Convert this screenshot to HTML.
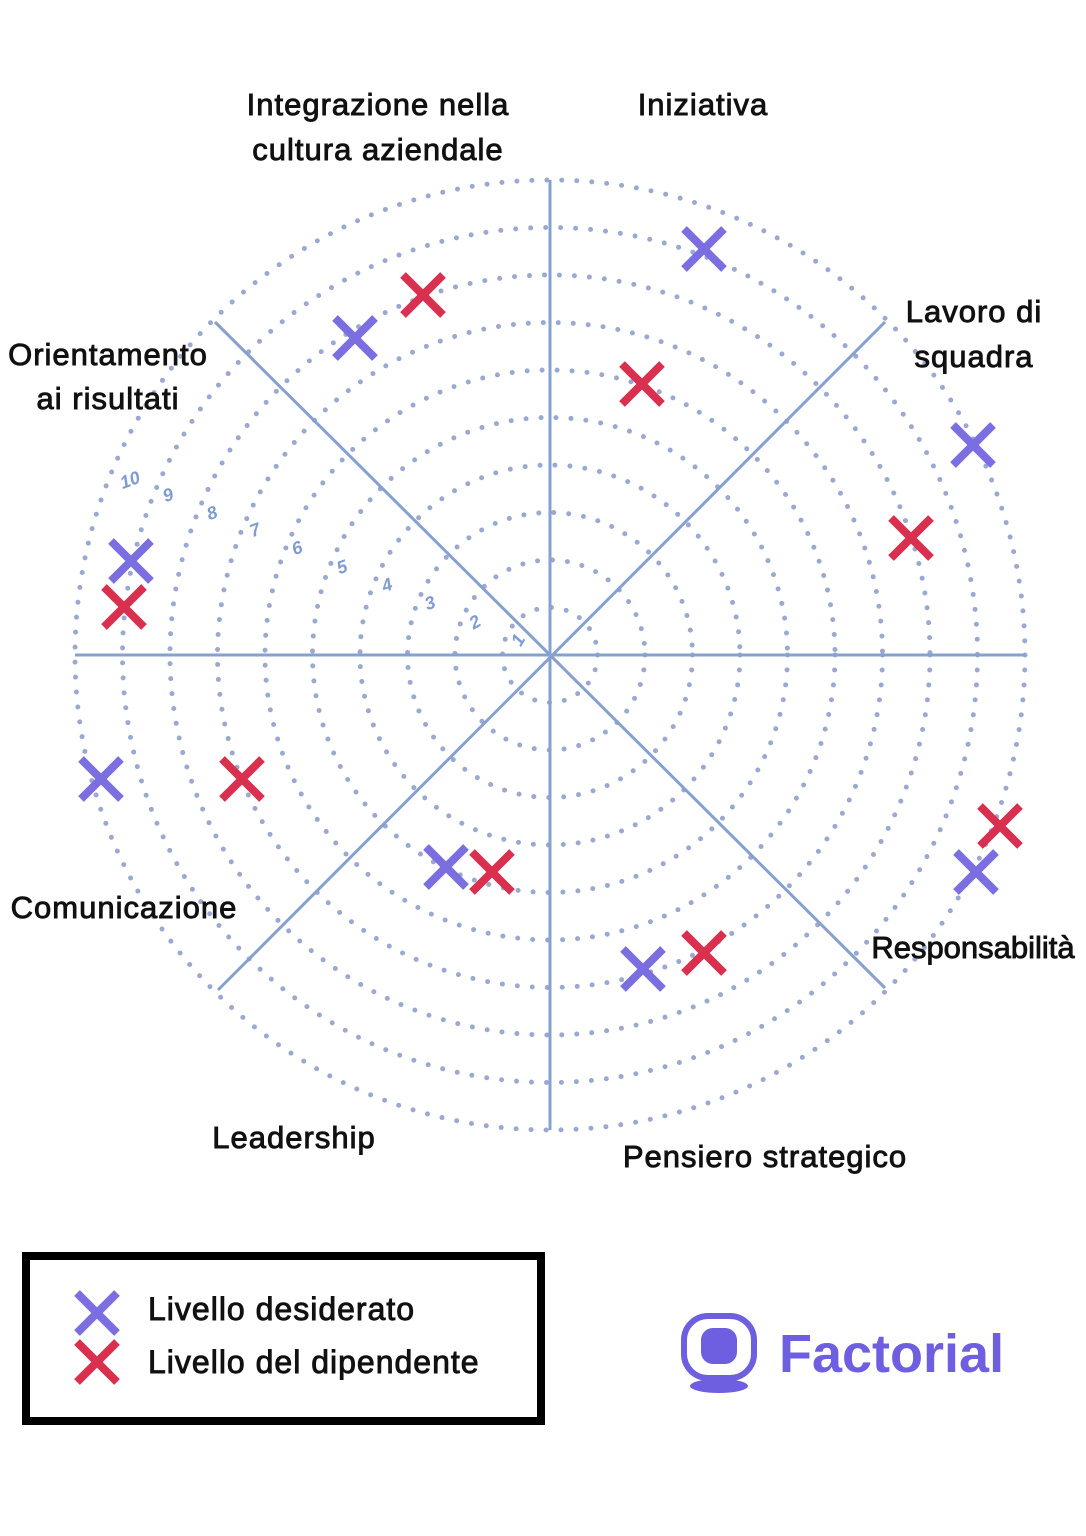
<!DOCTYPE html>
<html><head><meta charset="utf-8"><style>
html,body{margin:0;padding:0;background:#fff;}
svg{display:block}
text{font-family:"Liberation Sans","DejaVu Sans",sans-serif;}
</style></head><body>
<svg width="1086" height="1536" viewBox="0 0 1086 1536" xmlns="http://www.w3.org/2000/svg">
<rect width="1086" height="1536" fill="#fff"/>
<g fill="none" stroke="#9aa8d2" stroke-width="5" stroke-linecap="round" stroke-dasharray="0 15">
<circle cx="550" cy="655" r="47.5"/><circle cx="550" cy="655" r="95"/><circle cx="550" cy="655" r="142.5"/>
<circle cx="550" cy="655" r="190"/><circle cx="550" cy="655" r="237.5"/><circle cx="550" cy="655" r="285"/>
<circle cx="550" cy="655" r="332.5"/><circle cx="550" cy="655" r="380"/><circle cx="550" cy="655" r="427.5"/>
<circle cx="550" cy="655" r="475"/>
</g>
<g stroke="#86a0d0" stroke-width="3">
<line x1="75" y1="655" x2="1025" y2="655"/><line x1="550" y1="180" x2="550" y2="1130"/>
<line x1="215" y1="322" x2="885" y2="988"/><line x1="885" y1="322" x2="218" y2="990"/>
</g>
<g fill="#7f9bd0" font-size="18" font-style="italic" font-weight="bold" text-anchor="middle">
<text x="518" y="646" transform="rotate(-60 518 640)">1</text>
<text x="475" y="628" transform="rotate(-30 475 622)">2</text>
<text x="430" y="609" transform="rotate(-20 430 603)">3</text>
<text x="387" y="591" transform="rotate(-20 387 585)">4</text>
<text x="342" y="573" transform="rotate(-20 342 567)">5</text>
<text x="297" y="554" transform="rotate(-20 297 548)">6</text>
<text x="255" y="536" transform="rotate(-20 255 530)">7</text>
<text x="212" y="519" transform="rotate(-20 212 513)">8</text>
<text x="168" y="501" transform="rotate(-20 168 495)">9</text>
<text x="130" y="486" transform="rotate(-20 130 480)">10</text>
</g>
<g font-size="31" fill="#111" stroke="#111" stroke-width="0.9" letter-spacing="1" text-anchor="middle">
<text x="378" y="115">Integrazione nella</text>
<text x="378" y="160">cultura aziendale</text>
<text x="703" y="115">Iniziativa</text>
<text x="974" y="322">Lavoro di</text>
<text x="974" y="367">squadra</text>
<text x="108" y="365">Orientamento</text>
<text x="108" y="409">ai risultati</text>
<text x="124" y="918">Comunicazione</text>
<text x="973" y="958" letter-spacing="0">Responsabilità</text>
<text x="294" y="1148">Leadership</text>
<text x="765" y="1167">Pensiero strategico</text>
</g>
<defs>
<g id="x"><line x1="-20" y1="-20" x2="20" y2="20"/><line x1="-20" y1="20" x2="20" y2="-20"/></g>
</defs>
<g stroke="#7b6ee0" stroke-width="8">
<use href="#x" x="704" y="249"/><use href="#x" x="355" y="338"/><use href="#x" x="973" y="445"/>
<use href="#x" x="131" y="561"/><use href="#x" x="101" y="779"/><use href="#x" x="446" y="867"/>
<use href="#x" x="976" y="872"/><use href="#x" x="643" y="969"/><use href="#x" x="97" y="1313"/>
</g>
<g stroke="#d9304f" stroke-width="8">
<use href="#x" x="423" y="295"/><use href="#x" x="642" y="384"/><use href="#x" x="911" y="538"/>
<use href="#x" x="124" y="607"/><use href="#x" x="242" y="779"/><use href="#x" x="492" y="872"/>
<use href="#x" x="1000" y="826"/><use href="#x" x="704" y="953"/><use href="#x" x="97" y="1362"/>
</g>
<rect x="26" y="1256" width="515" height="165" fill="none" stroke="#000" stroke-width="8"/>
<g font-size="32" fill="#111" stroke="#111" stroke-width="0.9" letter-spacing="1">
<text x="148" y="1320">Livello desiderato</text>
<text x="148" y="1373">Livello del dipendente</text>
</g>
<g fill="#6d5fe0">
<rect x="684" y="1316" width="70" height="62" rx="24" fill="none" stroke="#6d5fe0" stroke-width="6"/>
<rect x="701" y="1328" width="36" height="36" rx="12"/>
<ellipse cx="719" cy="1386" rx="29" ry="7"/>
<text x="779" y="1372" font-size="54" font-weight="bold">Factorial</text>
</g>
</svg>
</body></html>
